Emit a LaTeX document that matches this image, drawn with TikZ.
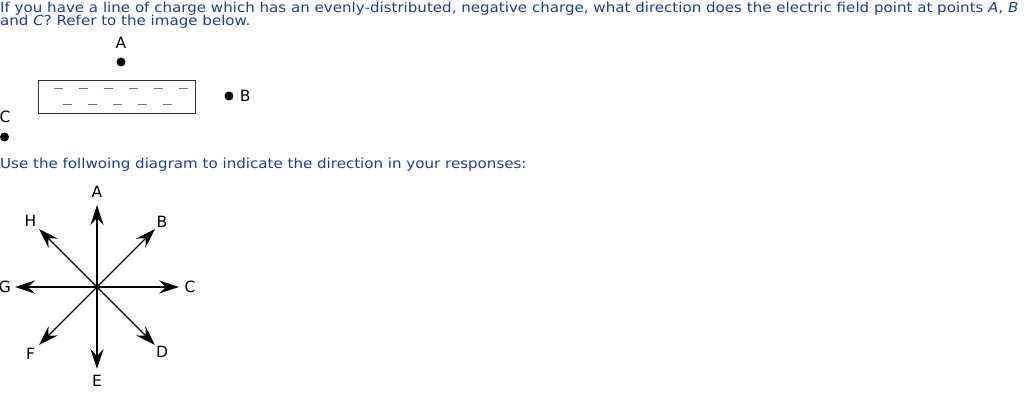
\documentclass[tikz,border=0pt]{standalone}
\usepackage{fontspec}
\setmainfont{DejaVu Sans}
\newfontfamily\qfont[FakeStretch=1.1]{DejaVu Sans}
\usetikzlibrary{positioning,arrows.meta,calc}

\definecolor{qblue}{RGB}{28,63,150}
\definecolor{dashgray}{RGB}{120,120,120}

\tikzset{
  qtext/.style={anchor=base west,inner sep=0pt,text=qblue,font=\qfont\fontsize{13.7}{13}\selectfont},
  lbl/.style={inner sep=0pt,font=\fontsize{15.5}{16}\selectfont},
  dot/.style={circle,fill=black,inner sep=0pt,minimum size=9pt},
  rod/.style={draw=black!80,line width=0.9pt,minimum width=157pt,minimum height=33pt,inner sep=0pt},
  arr/.style={line width=1.2pt,-{Stealth[length=20pt,width=13pt,inset=7pt]}}
}

\begin{document}
\begin{tikzpicture}[x=1pt,y=1pt]
\useasboundingbox (0,0) rectangle (1024,-414);

%---------------------Question text------------------%
\node[qtext] (q1) at (0,-12.5) {If you have a line of charge which has an evenly-distributed, negative charge, what direction does the electric field point at points \textit{A}, \textit{B}};
\node[qtext] (q2) at (0,-25.5) {and \textit{C}? Refer to the image below.};
%--------------------------------------------------------%

%---------------------Line of charge------------------%
\node[rod] (rod) at (116.5,-96.5) {};
\foreach \x in {58,83,108,133,158,183}
  \draw[dashgray,line width=0.9pt] (\x-4.5,-88) -- (\x+4.5,-88);
\foreach \x in {67,92,117,142,167}
  \draw[dashgray,line width=0.9pt] (\x-4.5,-104) -- (\x+4.5,-104);

\node[dot] (ptA) at (121,-62) {};
\node[lbl] (labA) at (121,-43) {A};
\node[dot] (ptB) at (229,-96) {};
\node[lbl, right=6pt of ptB] (labB) {B};
\node[dot] (ptC) at (4.5,-137) {};
\node[lbl] (labC) at (5,-117) {C};
%--------------------------------------------------------%

\node[qtext] (q3) at (0,-168.5) {Use the follwoing diagram to indicate the direction in your responses:};

%---------------------Compass------------------%
\coordinate (o) at (97,-287);
\foreach \n/\ang/\r in {A/90/95, B/45/92, C/0/93, D/-45/92, E/-90/94, F/-135/94, G/180/92, H/135/94}{
  \coordinate (tip\n) at ($(o)+(\ang:82)$);
  \node[lbl] (dir\n) at ($(o)+(\ang:\r)$) {\n};
  \draw[arr] (o) -- (tip\n);
}
%--------------------------------------------------------%
\end{tikzpicture}
\end{document}
